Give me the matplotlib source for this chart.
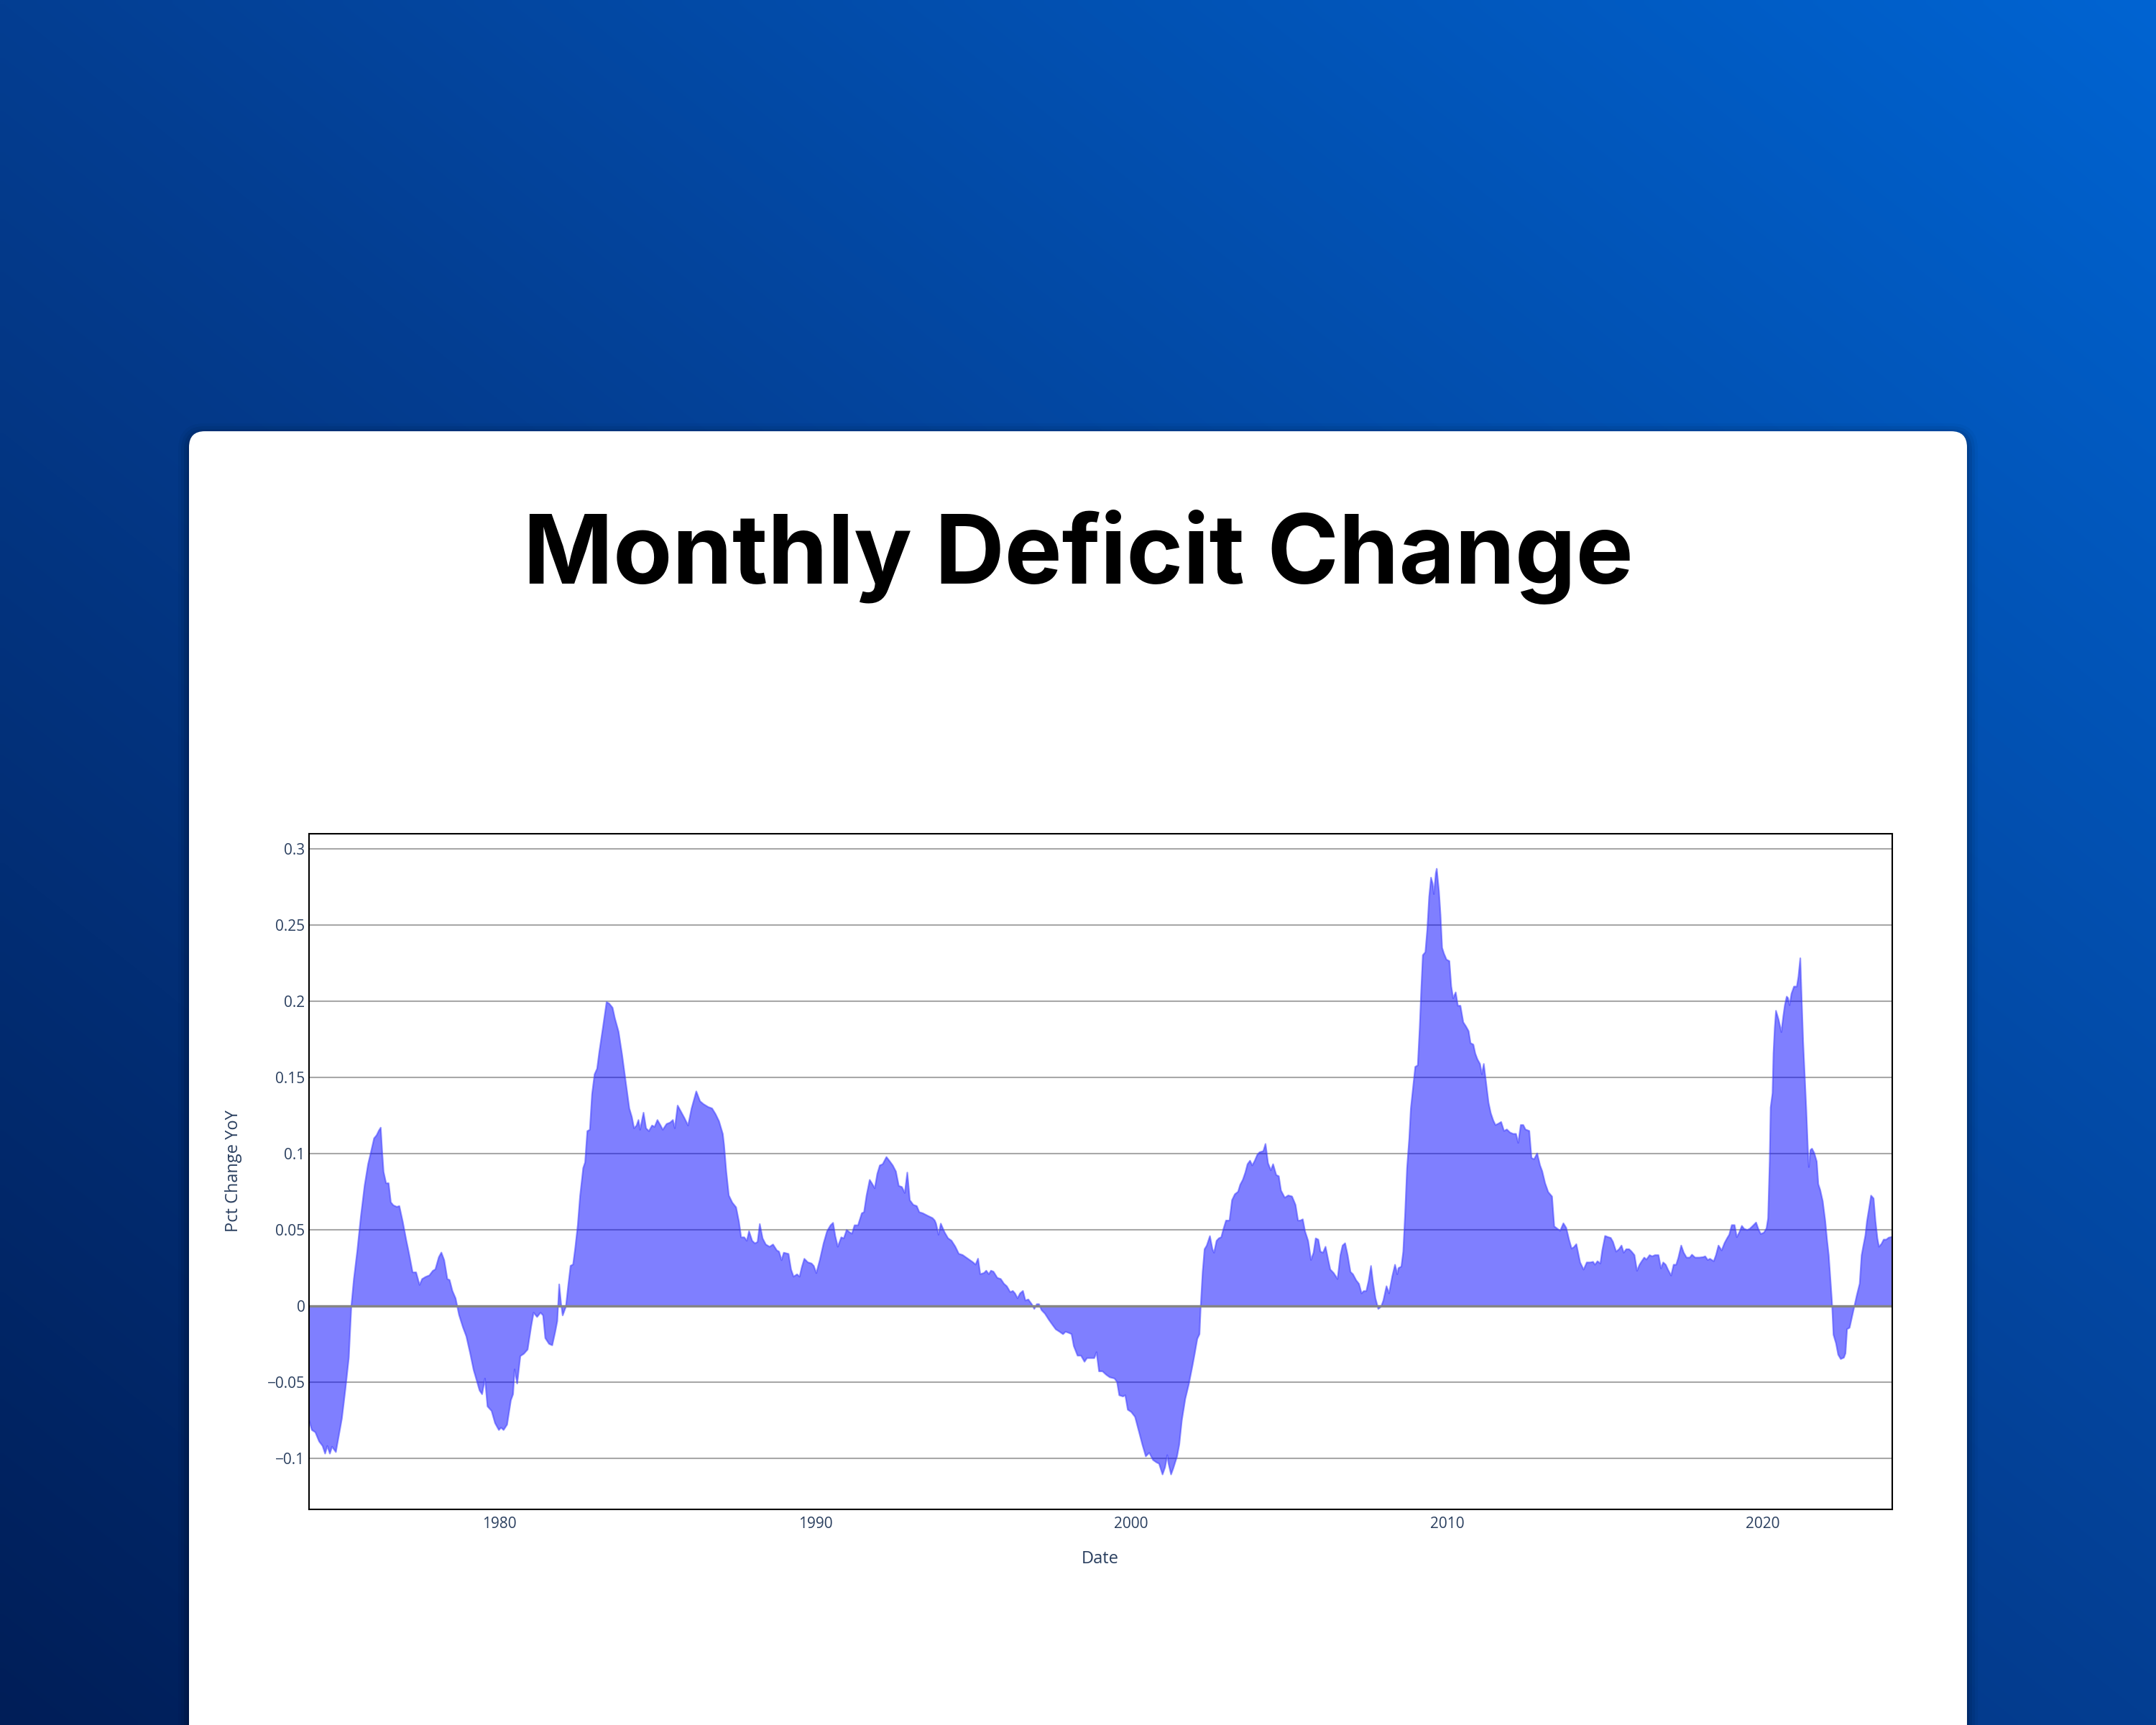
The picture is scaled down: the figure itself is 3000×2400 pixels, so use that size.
import numpy as np
import matplotlib
matplotlib.use("Agg")
import matplotlib.pyplot as plt
from matplotlib.patches import FancyBboxPatch
from matplotlib.ticker import FixedLocator, FixedFormatter

# ---------------- data (decimal year, pct change YoY) ----------------
years = [
 1973.97,1974.06,1974.17,1974.29,1974.40,1974.48,1974.55,1974.63,1974.70,1974.82,1974.89,1975.01,1975.12,1975.23,1975.31,
 1975.39,1975.50,1975.61,1975.73,1975.84,1975.92,1976.03,1976.11,1976.18,1976.24,1976.28,1976.33,1976.41,1976.49,1976.56,
 1976.64,1976.75,1976.83,1976.94,1977.05,1977.13,1977.25,1977.36,1977.47,1977.55,1977.66,1977.78,1977.89,1977.97,1978.08,
 1978.16,1978.25,1978.35,1978.42,1978.51,1978.61,1978.72,1978.84,1978.95,1979.07,1979.18,1979.25,1979.37,1979.45,1979.54,
 1979.62,1979.75,1979.86,1979.98,1980.05,1980.13,1980.24,
 1980.36,1980.43,1980.48,1980.56,1980.66,1980.77,1980.89,1981.00,1981.08,1981.19,1981.30,1981.38,1981.45,1981.57,1981.67,
 1981.76,1981.83,1981.89,1981.95,1982.00,1982.10,1982.18,1982.25,1982.33,1982.40,1982.48,1982.55,1982.65,1982.71,1982.78,
 1982.86,1982.93,1983.01,1983.09,1983.16,1983.28,1983.39,1983.47,1983.58,1983.65,1983.77,1983.88,1984.00,1984.11,1984.19,
 1984.26,1984.34,1984.40,1984.45,1984.56,1984.64,1984.73,1984.83,1984.91,1985.00,1985.10,1985.17,1985.29,1985.40,1985.49,
 1985.55,1985.64,1985.74,1985.86,1985.97,1986.08,1986.23,1986.35,1986.46,1986.61,1986.73,1986.84,1986.95,1987.07,
 1987.11,1987.18,1987.26,1987.37,1987.49,1987.58,1987.65,1987.75,1987.83,1987.90,1988.00,1988.09,1988.17,1988.24,1988.33,
 1988.43,1988.55,1988.66,1988.78,1988.85,1988.93,1989.00,1989.15,1989.23,1989.31,1989.42,1989.50,1989.57,1989.65,1989.76,
 1989.88,1989.95,1990.03,1990.14,1990.26,1990.37,1990.48,1990.56,1990.63,1990.71,1990.82,1990.90,1990.99,1991.09,1991.16,
 1991.24,1991.35,1991.47,1991.54,1991.62,1991.72,1991.79,1991.88,1991.96,1992.04,1992.13,1992.25,1992.34,1992.45,1992.55,
 1992.64,1992.74,1992.83,1992.91,1992.99,1993.10,1993.21,1993.29,1993.40,1993.55,1993.71,1993.78,
 1993.82,1993.90,1993.97,1994.09,1994.20,1994.31,1994.43,1994.54,1994.66,1994.77,1994.88,1994.99,1995.07,1995.15,1995.22,
 1995.34,1995.41,1995.49,1995.56,1995.64,1995.76,1995.87,1995.97,1996.06,1996.17,1996.25,1996.32,1996.40,1996.48,1996.57,
 1996.65,1996.74,1996.85,1996.93,1997.01,1997.08,1997.16,1997.27,1997.39,1997.50,1997.61,1997.73,1997.84,1997.92,1998.03,
 1998.11,1998.18,1998.30,1998.41,1998.52,1998.60,1998.71,1998.83,1998.90,1998.98,1999.09,1999.21,1999.32,1999.47,1999.55,
 1999.62,1999.74,1999.81,1999.89,2000.00,2000.12,2000.23,2000.35,2000.46,2000.57,2000.69,2000.80,2000.88,2000.99,2001.07,
 2001.14,2001.18,2001.26,2001.33,2001.45,2001.52,2001.60,2001.71,2001.82,2001.94,2002.01,2002.09,2002.16,
 2002.20,2002.26,2002.32,2002.39,2002.49,2002.57,2002.62,2002.70,2002.77,2002.85,2002.92,2003.00,2003.11,2003.19,2003.28,
 2003.38,2003.45,2003.53,2003.61,2003.68,2003.76,2003.83,2003.91,2003.99,2004.06,2004.18,2004.25,2004.33,2004.42,2004.49,
 2004.59,2004.67,2004.74,2004.86,2004.97,2005.09,2005.20,2005.28,2005.35,2005.43,2005.50,2005.60,2005.69,2005.77,2005.84,
 2005.92,2005.99,2006.07,2006.15,2006.22,2006.30,2006.41,2006.53,2006.62,2006.69,2006.77,2006.85,2006.94,2007.02,2007.12,
 2007.21,2007.29,2007.36,2007.44,2007.51,2007.59,2007.65,2007.73,2007.82,2007.91,2007.98,2008.08,2008.16,2008.26,2008.35,
 2008.42,
 2008.46,2008.55,2008.61,2008.67,2008.73,2008.80,2008.85,2008.92,2008.99,2009.07,2009.13,2009.18,2009.23,2009.31,2009.37,
 2009.43,2009.49,2009.54,2009.58,2009.64,2009.67,2009.74,2009.79,2009.84,2009.90,2009.98,2010.07,2010.13,2010.19,2010.27,
 2010.34,2010.42,2010.51,2010.60,2010.68,2010.74,2010.83,2010.89,2010.96,2011.04,2011.10,2011.16,2011.23,2011.31,2011.38,
 2011.46,2011.53,2011.63,2011.71,2011.80,2011.89,2011.99,2012.09,2012.18,2012.25,2012.33,2012.41,2012.48,2012.60,2012.67,
 2012.75,2012.85,2012.94,2013.01,2013.10,2013.20,2013.32,2013.39,2013.51,2013.58,2013.68,2013.77,2013.86,2013.94,2014.01,
 2014.09,
 2014.21,2014.32,2014.42,2014.53,2014.62,2014.68,2014.76,2014.85,2014.91,2015.00,2015.10,2015.18,2015.25,2015.35,2015.44,
 2015.52,2015.59,2015.67,2015.76,2015.84,2015.93,2016.01,2016.09,2016.16,2016.24,2016.31,2016.41,2016.49,2016.58,2016.69,
 2016.77,2016.84,2016.92,2016.99,2017.09,2017.17,2017.25,2017.32,2017.41,2017.49,2017.58,2017.68,2017.75,2017.85,2017.98,
 2018.10,2018.17,2018.25,2018.32,2018.44,2018.51,2018.59,2018.69,2018.78,2018.86,2018.93,2019.01,2019.10,2019.17,2019.25,
 2019.33,2019.40,2019.50,2019.58,
 2019.69,2019.78,2019.86,2019.93,2020.03,2020.11,2020.16,2020.21,2020.24,2020.30,2020.33,2020.37,2020.41,2020.49,2020.58,
 2020.64,2020.69,2020.75,2020.79,2020.84,2020.90,2020.98,2021.07,2021.12,2021.18,2021.22,2021.27,2021.32,2021.37,2021.42,
 2021.45,2021.50,2021.55,2021.62,2021.70,2021.75,2021.81,2021.89,2021.97,2022.03,2022.08,2022.13,2022.18,2022.23,2022.31,
 2022.38,2022.46,2022.56,2022.61,2022.66,2022.74,2022.81,2022.89,2022.97,2023.06,2023.12,2023.17,2023.24,2023.29,2023.35,
 2023.42,2023.50,2023.56,2023.62,2023.67,2023.75,2023.82,2023.90,2023.98,2024.09,
]
pct_change = [
 -0.075,-0.0815,-0.083,-0.089,-0.092,-0.097,-0.092,-0.097,-0.0925,-0.096,-0.088,-0.074,-0.055,-0.034,0.0,
 0.0176,0.0365,0.0585,0.079,0.093,0.100,0.110,0.112,0.115,0.117,0.103,0.088,0.0805,0.0805,0.068,
 0.066,0.065,0.0655,0.055,0.043,0.035,0.022,0.022,0.0137,0.0176,0.019,0.020,0.023,0.024,0.032,
 0.035,0.030,0.0176,0.017,0.0098,0.005,-0.006,-0.0139,-0.020,-0.031,-0.042,-0.047,-0.0556,-0.058,-0.0477,
 -0.066,-0.069,-0.077,-0.0815,-0.080,-0.0815,-0.078,
 -0.062,-0.058,-0.0417,-0.051,-0.033,-0.0315,-0.0287,-0.0138,-0.0045,-0.0073,-0.0045,-0.0063,-0.0212,-0.025,-0.0259,
 -0.0175,-0.010,0.0141,0.0011,-0.0063,-0.0007,0.0141,0.0263,0.0272,0.0384,0.0533,0.0719,0.0905,0.0942,0.1147,
 0.1156,0.139,0.152,0.1557,0.1668,0.1836,0.1994,0.1985,0.1957,0.189,0.180,0.165,0.1464,0.1296,0.124,
 0.1166,0.1184,0.122,0.1156,0.1268,0.1166,0.1147,0.1184,0.1175,0.122,0.1184,0.1156,0.1194,0.1203,0.122,
 0.1166,0.1315,0.1277,0.1231,0.1184,0.1296,0.1408,0.1343,0.1324,0.1305,0.1296,0.1259,0.1212,0.1128,
 0.1055,0.088,0.0725,0.0678,0.0647,0.0553,0.045,0.045,0.0427,0.049,0.0427,0.041,0.042,0.0537,0.0443,
 0.0403,0.0388,0.0403,0.0364,0.0356,0.030,0.0349,0.0341,0.0239,0.0192,0.0207,0.0192,0.0254,0.0309,0.0286,
 0.0278,0.0262,0.0215,0.0301,0.0411,0.049,0.0529,0.0545,0.0458,0.0388,0.045,0.0443,0.0498,0.0482,0.0474,
 0.0529,0.0529,0.0608,0.0615,0.0725,0.0827,0.0804,0.0772,0.0867,0.0922,0.093,0.0977,0.0953,0.0922,0.0882,
 0.0788,0.078,0.0741,0.0875,0.0694,0.0663,0.0655,0.0615,0.0608,0.0592,0.0576,0.056,
 0.054,0.0467,0.054,0.0483,0.0444,0.0428,0.0389,0.0342,0.0334,0.0318,0.0302,0.0286,0.0271,0.031,0.0208,
 0.0216,0.0231,0.0208,0.0231,0.0224,0.0184,0.0176,0.0145,0.0129,0.009,0.0098,0.0082,0.005,0.0082,0.0098,
 0.0035,0.0042,0.0011,-0.002,0.0011,0.0011,-0.0028,-0.0052,-0.0091,-0.0123,-0.0154,-0.017,-0.0186,-0.017,-0.0178,
 -0.0186,-0.0264,-0.0327,-0.0327,-0.0367,-0.0343,-0.0343,-0.0343,-0.0304,-0.043,-0.043,-0.0453,-0.0469,-0.0477,-0.05,
 -0.0587,-0.0595,-0.0587,-0.0682,-0.0697,-0.0729,-0.0815,-0.091,-0.0988,-0.0965,-0.1012,-0.1028,-0.1036,-0.1107,-0.106,
 -0.098,-0.1036,-0.1107,-0.1067,-0.0988,-0.091,-0.0752,-0.061,-0.0516,-0.039,-0.0312,-0.0217,-0.0186,
 0.0003,0.0223,0.0372,0.0396,0.0458,0.0372,0.0349,0.0427,0.0443,0.0451,0.0506,0.056,0.056,0.0694,0.0733,
 0.0749,0.0796,0.0827,0.0875,0.093,0.0953,0.0922,0.0953,0.0992,0.1008,0.1016,0.1063,0.0937,0.089,0.093,
 0.0859,0.0851,0.0757,0.071,0.0725,0.0718,0.0663,0.056,0.056,0.0568,0.049,0.0427,0.0301,0.0349,0.0443,
 0.0435,0.0356,0.0349,0.0388,0.0317,0.0239,0.0215,0.0176,0.0333,0.0396,0.0411,0.0333,0.0223,0.0207,0.0168,
 0.0144,0.0082,0.0097,0.0097,0.016,0.0262,0.016,0.005,-0.002,-0.0005,0.0035,0.0129,0.0082,0.0192,0.027,
 0.0207,
 0.0248,0.0258,0.0356,0.061,0.0904,0.11,0.1295,0.1432,0.1569,0.1579,0.1823,0.2077,0.2302,0.2322,0.2469,
 0.2684,0.2811,0.2772,0.2703,0.284,0.2869,0.2723,0.2566,0.2351,0.2312,0.2273,0.2263,0.2097,0.2019,0.2058,
 0.197,0.197,0.1862,0.1833,0.1803,0.1725,0.1715,0.1657,0.1618,0.1588,0.152,0.1588,0.1471,0.1334,0.1266,
 0.1217,0.1187,0.1197,0.1207,0.1148,0.1158,0.1138,0.1129,0.1129,0.107,0.1187,0.1187,0.1158,0.1148,0.0972,
 0.0962,0.1001,0.0923,0.0884,0.0806,0.0747,0.0718,0.0522,0.0503,0.0493,0.0542,0.0512,0.0434,0.0376,0.0385,
 0.0405,
 0.0285,0.0238,0.0285,0.0285,0.0289,0.027,0.0293,0.0278,0.0364,0.0459,0.0451,0.0446,0.042,0.0356,0.0372,
 0.0396,0.0349,0.0372,0.0372,0.0356,0.0333,0.023,0.027,0.0293,0.0317,0.0304,0.0333,0.0325,0.0333,0.0333,
 0.0246,0.0285,0.027,0.0238,0.0199,0.027,0.027,0.0317,0.0396,0.0349,0.0317,0.0317,0.0336,0.0317,0.0317,
 0.032,0.0325,0.0301,0.0309,0.0293,0.0333,0.0396,0.0364,0.0412,0.0443,0.0467,0.053,0.053,0.0451,0.0483,
 0.0525,0.0506,0.0498,0.0506,
 0.0528,0.0547,0.05,0.0472,0.0481,0.0509,0.0575,0.0948,0.1302,0.1396,0.1657,0.1825,0.1937,0.1881,0.1797,
 0.19,0.1974,0.203,0.2021,0.1974,0.2049,0.2096,0.2096,0.2161,0.2282,0.203,0.1732,0.1508,0.1284,0.1023,
 0.0911,0.1023,0.1032,0.1004,0.0948,0.0799,0.0761,0.0687,0.0556,0.0425,0.0332,0.0183,0.0034,-0.019,-0.0246,
 -0.0321,-0.0349,-0.034,-0.0312,-0.0153,-0.0144,-0.0078,-0.0004,0.0071,0.0146,0.0332,0.0388,0.0463,0.0556,0.0631,
 0.0724,0.0705,0.0556,0.0444,0.0388,0.0407,0.0435,0.0435,0.0448,0.0453,
]

x_ticks = [1980, 1990, 2000, 2010, 2020]
x_tick_labels = ["1980", "1990", "2000", "2010", "2020"]
y_ticks = [-0.1, -0.05, 0, 0.05, 0.1, 0.15, 0.2, 0.25, 0.3]
y_tick_labels = ["\u22120.1", "\u22120.05", "0", "0.05", "0.1", "0.15", "0.2", "0.25", "0.3"]

title_text = "Monthly Deficit Change"
x_label = "Date"
y_label = "Pct Change YoY"

# ---------------- figure ----------------
W, H = 3000, 2400
DPI = 100
fig = plt.figure(figsize=(W / DPI, H / DPI), dpi=DPI)

# background gradient + card (pixel coordinate overlay)
bg = fig.add_axes([0, 0, 1, 1], zorder=0)
bg.set_xlim(0, W)
bg.set_ylim(H, 0)
bg.axis("off")
gx = np.linspace(0, 1, 300)
gy = np.linspace(0, 1, 240)
GX, GY = np.meshgrid(gx, gy)
t = (GX + (1 - GY)) / 2.0  # 0 bottom-left -> 1 top-right
c0 = np.array([0, 30, 88]) / 255.0
c1 = np.array([4, 62, 146]) / 255.0
c2 = np.array([0, 100, 210]) / 255.0
img = np.zeros(GX.shape + (3,))
for k in range(3):
    img[..., k] = np.where(t < 0.5,
                           c0[k] + (c1[k] - c0[k]) * (t / 0.5),
                           c1[k] + (c2[k] - c1[k]) * ((t - 0.5) / 0.5))
bg.imshow(img, extent=[0, W, H, 0], aspect="auto", interpolation="bilinear", zorder=0)

# soft shadow
for i, a in enumerate([0.10, 0.07, 0.05, 0.03]):
    d = 3 + i * 4
    bg.add_patch(FancyBboxPatch((263 - d, 600 - d + 4), 2474 + 2 * d, 1900 + 2 * d,
                                boxstyle="round,pad=0,rounding_size=%d" % (22 + d),
                                facecolor="black", edgecolor="none", alpha=a, zorder=1))
bg.add_patch(FancyBboxPatch((263, 600), 2474, 1900,
                            boxstyle="round,pad=0,rounding_size=22",
                            facecolor="white", edgecolor="none", zorder=2))

# title, auto-fit to the reference width
title = fig.text(0.5, 1 - 812 / H, title_text, ha="center", va="baseline",
                 fontsize=100, fontweight="bold", family=["Inter", "DejaVu Sans"],
                 color="black", zorder=5)
renderer = fig.canvas.get_renderer()
w0 = title.get_window_extent(renderer).width
title.set_fontsize(100 * 1545.0 / w0)

# ---------------- chart ----------------
ax = fig.add_axes([430 / W, 1 - 2100 / H, 2203 / W, 940 / H], zorder=3)
ax.set_facecolor("white")

ax.set_xlim(1973.97, 2024.09)
ax.set_ylim(-0.1336, 0.3099)

ax.yaxis.set_major_locator(FixedLocator(y_ticks))
ax.yaxis.set_major_formatter(FixedFormatter(y_tick_labels))
ax.xaxis.set_major_locator(FixedLocator(x_ticks))
ax.xaxis.set_major_formatter(FixedFormatter(x_tick_labels))

ax.set_axisbelow(True)
ax.grid(axis="y", color="#a8a8a8", linewidth=1.5, zorder=0)
ax.grid(axis="x", visible=False)

ax.fill_between(years, pct_change, 0, facecolor=(0, 0, 1, 0.5), edgecolor="none",
                linewidth=0, zorder=2)
ax.plot(years, pct_change, color=(0.25, 0.25, 1.0), alpha=0.55, linewidth=1.6, zorder=3,
        solid_joinstyle="round")
ax.axhline(0, color="#858585", linewidth=2.4, zorder=3.5)

for s in ax.spines.values():
    s.set_color("black")
    s.set_linewidth(1.5)
    s.set_zorder(4)

ax.tick_params(axis="both", length=0, colors="#2a3f5f", labelsize=15)
ax.tick_params(axis="x", pad=7)
ax.tick_params(axis="y", pad=4)
for lab in ax.get_xticklabels() + ax.get_yticklabels():
    lab.set_fontfamily(["Open Sans", "DejaVu Sans"])
    lab.set_color("#2a3f5f")

fig.text(1531 / W, 1 - 2175 / H, x_label, ha="center", va="baseline",
         fontsize=17, family=["Open Sans", "DejaVu Sans"], color="#2a3f5f", zorder=5)
fig.text(325 / W, 1 - 1629 / H, y_label, ha="center", va="center", rotation=90,
         fontsize=17, family=["Open Sans", "DejaVu Sans"], color="#2a3f5f", zorder=5)

fig.savefig("out.png", dpi=DPI)
